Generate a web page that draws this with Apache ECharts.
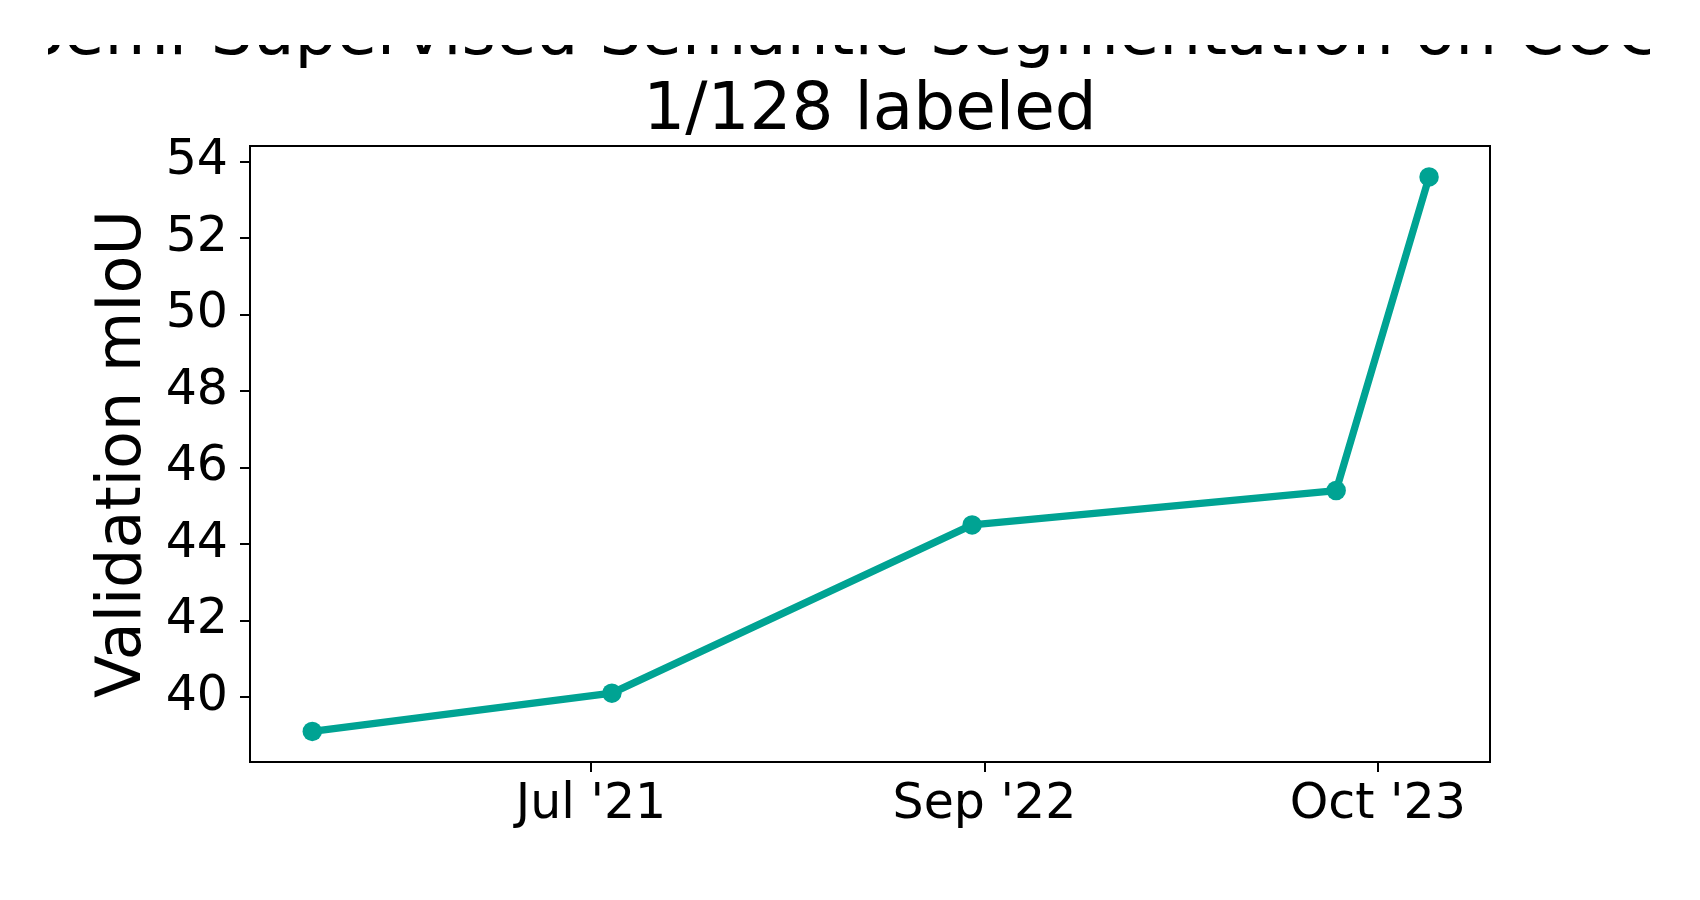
<!DOCTYPE html>
<html>
<head>
<meta charset="utf-8">
<script src="https://cdn.jsdelivr.net/npm/echarts@6/dist/echarts.min.js"></script>
<style>
  html, body { margin: 0; padding: 0; background: #ffffff; }
  #chart { width: 1700px; height: 900px; }
</style>
</head>
<body>
<div id="chart"></div>
<script>
// ---- data ----
const titleLine1 = 'Semi-Supervised Semantic Segmentation on COCO';
const titleLine2 = '1/128 labeled';
const yAxisName = 'Validation mIoU';
const dates = ['2020-09-29', '2021-08-11', '2022-08-26', '2023-09-14', '2023-12-21'];
const mIoU = [39.1, 40.1, 44.5, 45.4, 53.6];
const xTickDates = ['2021-07-20', '2022-09-08', '2023-10-28'];
const xTickLabels = ["Jul '21", "Sep '22", "Oct '23"];
const yTicks = [40, 42, 44, 46, 48, 50, 52, 54];

const ts = d => Date.parse(d + (d.length === 10 ? 'T00:00:00Z' : ''));
const xTickValues = xTickDates.map(ts);
const seriesData = dates.map((d, i) => [ts(d), mIoU[i]]);

const FONT = '"DejaVu Sans", "Liberation Sans", sans-serif';
const COLOR = '#00A393';

const chart = echarts.init(document.getElementById('chart'), null, { renderer: 'canvas' });
chart.setOption({
  animation: false,
  backgroundColor: '#ffffff',
  grid: {
    left: 250, right: 210, top: 146, bottom: 138,
    containLabel: false, outerBoundsMode: 'none',
    show: true, borderColor: '#000000', borderWidth: 2, backgroundColor: 'transparent'
  },
  xAxis: {
    type: 'value',
    min: ts('2020-07-25T07:00:00Z'),
    max: ts('2024-02-23T07:00:00Z'),
    splitLine: { show: false },
    axisLine: { show: true, lineStyle: { color: '#000', width: 2 } },
    axisTick: { show: true, length: 10, lineStyle: { color: '#000', width: 2 }, customValues: xTickValues },
    axisLabel: {
      customValues: xTickValues,
      margin: 19,
      color: '#000', fontSize: 49, fontFamily: FONT,
      formatter: v => {
        const i = xTickValues.indexOf(v);
        return i >= 0 ? xTickLabels[i] : '';
      }
    }
  },
  yAxis: {
    type: 'value',
    min: 38.3,
    max: 54.41,
    name: yAxisName,
    nameLocation: 'middle',
    nameGap: 95,
    nameTextStyle: { color: '#000', fontSize: 62, fontFamily: FONT },
    splitLine: { show: false },
    axisLine: { show: true, lineStyle: { color: '#000', width: 2 } },
    axisTick: { show: true, length: 10, lineStyle: { color: '#000', width: 2 }, customValues: yTicks },
    axisLabel: {
      customValues: yTicks,
      margin: 22,
      color: '#000', fontSize: 49, fontFamily: FONT,
      formatter: v => String(v)
    }
  },
  series: [{
    type: 'line',
    data: seriesData,
    symbol: 'circle',
    symbolSize: 19.5,
    lineStyle: { color: COLOR, width: 7.3 },
    itemStyle: { color: COLOR },
    z: 3
  }],
  graphic: [
    {
      type: 'text', z: 10,
      style: {
        x: 868, y: 37, text: titleLine1,
        fontSize: 66, fontFamily: FONT, fill: '#000',
        textAlign: 'center', textVerticalAlign: 'middle', verticalAlign: 'middle'
      }
    },
    {
      type: 'text', z: 10,
      style: {
        x: 870, y: 112, text: titleLine2,
        fontSize: 66, fontFamily: FONT, fill: '#000',
        textAlign: 'center', textVerticalAlign: 'middle', verticalAlign: 'middle'
      }
    },
    { type: 'rect', z: 20, shape: { x: 0, y: 0, width: 1700, height: 45 }, style: { fill: '#ffffff' } },
    { type: 'rect', z: 20, shape: { x: 0, y: 0, width: 48, height: 75 }, style: { fill: '#ffffff' } },
    { type: 'rect', z: 20, shape: { x: 1650, y: 0, width: 50, height: 75 }, style: { fill: '#ffffff' } }
  ]
});
</script>
</body>
</html>
